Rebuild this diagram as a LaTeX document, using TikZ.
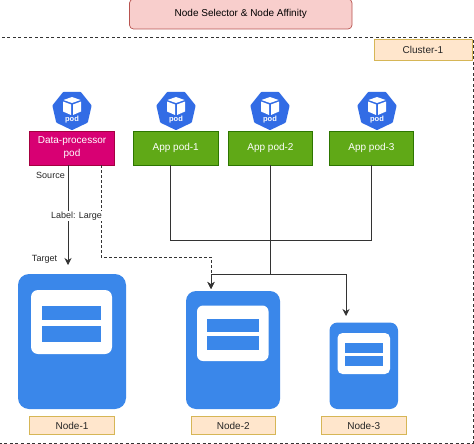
\documentclass[tikz,border=0pt]{standalone}
\usepackage{fontspec}
\setmainfont{Liberation Sans}
\usetikzlibrary{arrows.meta}
\definecolor{podblue}{HTML}{326CE5}
\definecolor{nodeblue}{HTML}{3A87EA}
\definecolor{titlefill}{HTML}{F8CECC}
\definecolor{titleline}{HTML}{B85450}
\definecolor{tagfill}{HTML}{FFE6CC}
\definecolor{tagline}{HTML}{D6B656}
\definecolor{appfill}{HTML}{60A917}
\definecolor{appline}{HTML}{2D7600}
\definecolor{dpfill}{HTML}{D80073}
\definecolor{dpline}{HTML}{A50040}
\definecolor{linecol}{HTML}{333333}
\tikzset{
  base/.style={font=\fontsize{10}{13}\selectfont, inner sep=0pt, align=center},
  titlebox/.style={base, draw=titleline, fill=titlefill, rounded corners=4pt, line width=0.7pt, minimum width=222.5pt, minimum height=30pt},
  tagbox/.style={base, draw=tagline, fill=tagfill, line width=0.8pt, text=black!85, minimum height=17.5pt},
  appbox/.style={base, draw=appline, fill=appfill, text=white, line width=0.7pt, minimum width=84.5pt, minimum height=34pt},
  dpbox/.style={base, draw=dpline, fill=dpfill, text=white, line width=0.7pt, minimum width=84.5pt, minimum height=34pt},
  body/.style={fill=nodeblue, inner sep=0pt},
  panel/.style={fill=white, inner sep=0pt},
  barbox/.style={fill=nodeblue, inner sep=0pt},
  lbl/.style={base, font=\fontsize{9}{11}\selectfont, text=black!85},
  lblw/.style={lbl, fill=white, inner ysep=1pt},
  conn/.style={draw=linecol, line width=0.8pt},
  arrowconn/.style={conn, -{Stealth[length=7pt,width=7pt]}},
  dotconn/.style={arrowconn, dash pattern=on 2.2pt off 2.8pt},
  pod/.pic={
    \fill[podblue, draw=podblue, line width=3pt, line join=round]
      (90:18.5) -- (38.6:18.5) -- (-12.9:18.5) -- (-64.3:18.5) -- (-115.7:18.5) -- (-167.1:18.5) -- (141.4:18.5) -- cycle;
    \fill[white] (0,-13) -- (8.5,-10) -- (0,-7) -- (-8.5,-10) -- cycle;
    \fill[white] (-9,-8.5) -- (-1,-5.5) -- (-1,5) -- (-9,1.5) -- cycle;
    \fill[white] (9,-8.5) -- (1,-5.5) -- (1,5) -- (9,1.5) -- cycle;
    \node[text=white, font=\fontsize{7.5}{9}\selectfont\bfseries, inner sep=0pt] at (0,9.5) {pod};
  }
}
\begin{document}
\begin{tikzpicture}[x=1pt,y=-1pt]
\useasboundingbox (0,0) rectangle (474,444);
\fill[white] (0,0) rectangle (474,444);
\draw[draw=linecol, line width=1pt, dash pattern=on 3pt off 2.5pt] (-3,38) rectangle (473,443);

\node[titlebox] (title) at (240.75,14) {Node Selector \& Node Affinity};
\node[tagbox, minimum width=98pt, minimum height=21pt] (cluster) at (423,49.5) {Cluster-1};

\pic at (72,110) {pod};
\pic at (176,110) {pod};
\pic at (270,110) {pod};
\pic at (377,110) {pod};

\node[dpbox] (dp) at (72,148) {Data-processor\\pod};
\node[appbox] (a1) at (175.75,148) {App pod-1};
\node[appbox] (a2) at (270.5,148) {App pod-2};
\node[appbox] (a3) at (371.5,148) {App pod-3};

% Node-1
\node[body, rounded corners=11pt, minimum width=108pt, minimum height=135pt] (n1) at (72,341.5) {};
\node[panel, rounded corners=7pt, minimum width=81pt, minimum height=64pt] (p1) at (71.5,322) {};
\node[barbox, minimum width=59pt, minimum height=14.5pt] (b1a) at (71.5,312.75) {};
\node[barbox, minimum width=59pt, minimum height=16.5pt] (b1b) at (71.5,333.75) {};
% Node-2
\node[body, rounded corners=10pt, minimum width=94pt, minimum height=118pt] (n2) at (233,350) {};
\node[panel, rounded corners=6pt, minimum width=71.5pt, minimum height=55.5pt] (p2) at (232.75,333.25) {};
\node[barbox, minimum width=52pt, minimum height=13pt] (b2a) at (233,325) {};
\node[barbox, minimum width=52pt, minimum height=14pt] (b2b) at (233,343) {};
% Node-3
\node[body, rounded corners=8pt, minimum width=68.5pt, minimum height=86.5pt] (n3) at (363.75,365.75) {};
\node[panel, rounded corners=5pt, minimum width=52.5pt, minimum height=41pt] (p3) at (363.75,353.5) {};
\node[barbox, minimum width=38.5pt, minimum height=10pt] (b3a) at (363.75,347.5) {};
\node[barbox, minimum width=38.5pt, minimum height=10pt] (b3b) at (363.75,361) {};

\node[tagbox, minimum width=84.5pt] (t1) at (72,425.5) {Node-1};
\node[tagbox, minimum width=84.5pt] (t2) at (233.25,425.5) {Node-2};
\node[tagbox, minimum width=84.5pt] (t3) at (363.75,425.5) {Node-3};

% connector ends and bends
\coordinate (srcend) at (68,265);
\coordinate (dotstart) at (101,165);
\coordinate (dotbendA) at (101,257);
\coordinate (dotbendB) at (211,257);
\coordinate (tip2) at (211,289);
\coordinate (bend1) at (170,240);
\coordinate (bend3) at (371.5,240);
\coordinate (junc) at (270.5,274);
\coordinate (joinL) at (211,274);
\coordinate (bendR) at (346,274);
\coordinate (tip3) at (346,316);

\draw[arrowconn] (dp.south -| srcend) -- (srcend);
\draw[dotconn] (dp.south -| dotstart) -- (dotbendA) -- (dotbendB) -- (tip2);
\draw[conn] (a1.south -| bend1) -- (bend1) -- (bend3) -- (a3.south -| bend3);
\draw[conn] (a2.south) -- (junc);
\draw[arrowconn] (joinL) -- (tip2);
\draw[conn] (joinL) -- (junc);
\draw[arrowconn] (junc) -- (bendR) -- (tip3);

\node[lbl] (source) at (50.5,175) {Source};
\node[lblw] (label) at (76.5,216) {Label: Large};
\node[lbl] (target) at (44.5,259) {Target};
\end{tikzpicture}
\end{document}
